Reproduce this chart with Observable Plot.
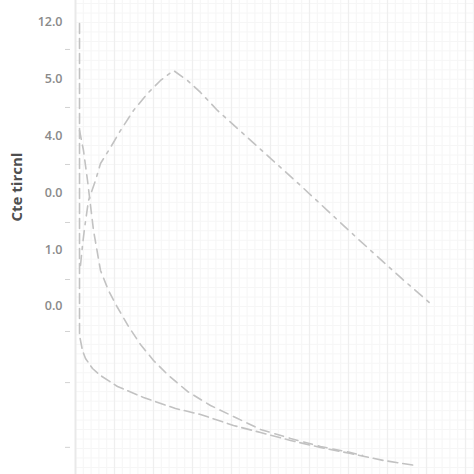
<!DOCTYPE html>
<html>
<head>
<meta charset="utf-8">
<script src="https://cdn.jsdelivr.net/npm/d3@7"></script>
<script src="https://cdn.jsdelivr.net/npm/@observablehq/plot@0.6"></script>
<style>
  html, body { margin: 0; padding: 0; background: #fff; }
</style>
</head>
<body>
<div id="chart"></div>
<script>
// Y tick labels (as printed in the reference) and their positions in scale units
const yTickValues = [10, 9, 8, 7, 6, 5];
const yTickLabels = ["12.0", "5.0", "4.0", "0.0", "1.0", "0.0"];
const yMinorTicks = [9.525, 8.504, 7.5, 6.479, 5.475, 4.56, 3.66, 2.52];
const yTitle = "Cte tircnl";

// Series A: steep vertical drop then long tail
const seriesAx = [0.103, 0.103, 0.179, 0.256, 0.436, 0.641, 1.077, 1.744, 2.564, 3.205, 4.051, 4.744, 5.513, 6.282, 7.051, 7.897, 8.718];
const seriesAy = [9.982, 4.489, 4.225, 4.085, 3.908, 3.785, 3.592, 3.398, 3.204, 3.099, 2.905, 2.782, 2.641, 2.518, 2.412, 2.289, 2.201];

// Series B: decaying curve
const seriesBx = [0.103, 0.205, 0.308, 0.385, 0.462, 0.641, 0.846, 1.077, 1.359, 1.667, 2.0, 2.359, 2.872, 3.462, 4.103, 4.744, 5.513, 6.282, 7.051, 7.359];
const seriesBy = [8.099, 7.746, 7.218, 6.778, 6.338, 5.634, 5.282, 4.982, 4.648, 4.331, 4.049, 3.803, 3.504, 3.257, 3.046, 2.835, 2.676, 2.535, 2.430, 2.377];

// Series C: rise to a peak then linear decline
const seriesCx = [0.128, 0.179, 0.231, 0.333, 0.513, 0.641, 0.897, 1.154, 1.487, 1.846, 2.179, 2.513, 2.872, 3.205, 3.641, 4.154, 5.769, 7.231, 8.333, 9.128];
const seriesCy = [5.722, 6.074, 6.373, 6.866, 7.218, 7.518, 7.799, 8.099, 8.451, 8.750, 8.979, 9.155, 8.979, 8.768, 8.451, 8.134, 7.130, 6.197, 5.511, 5.035];

const toRows = (xs, ys) => xs.map((x, i) => ({x, y: ys[i]}));
const A = toRows(seriesAx, seriesAy);
const B = toRows(seriesBx, seriesBy);
const C = toRows(seriesCx, seriesCy);
const labelMap = new Map(yTickValues.map((v, i) => [v, yTickLabels[i]]));

const lineStyle = {x: "x", y: "y", stroke: "#c2c2c2", strokeWidth: 1.6, curve: "linear"};

const chart = Plot.plot({
  width: 474,
  height: 474,
  marginLeft: 75,
  marginRight: 0,
  marginTop: 0,
  marginBottom: 0,
  style: {fontFamily: "Open Sans, sans-serif", background: "#fff"},
  x: {domain: [0, 10.23], axis: null},
  y: {domain: [2.042, 10.387], axis: null},
  marks: [
    Plot.gridX(d3.range(0, 10.3, 0.2), {stroke: "#f5f5f5", strokeOpacity: 1}),
    Plot.gridY(d3.range(2.0, 10.4, 1 / 6), {stroke: "#f6f6f6", strokeOpacity: 1}),
    Plot.gridX(d3.range(1, 11, 1), {stroke: "#efefef", strokeOpacity: 1, strokeWidth: 1.3}),
    Plot.ruleX([0], {stroke: "#e9e9e9", strokeWidth: 2}),
    Plot.axisY({ticks: yTickValues, tickSize: 0, tickPadding: 13, tickFormat: d => labelMap.get(d),
      fontSize: 12.5, fontWeight: 600, fill: "#8a8a8a", label: null}),
    Plot.axisY({ticks: yMinorTicks, tickSize: 5, tickFormat: () => "", dx: -5, stroke: "#d2d2d2", label: null}),
    Plot.line(A, {...lineStyle, strokeDasharray: "10,5"}),
    Plot.line(B, {...lineStyle, strokeDasharray: "9,6"}),
    Plot.line(C, {...lineStyle, strokeDasharray: "10,6,3,6"}),
    Plot.text([yTitle], {text: d => d, frameAnchor: "left", dx: -58, dy: -16, rotate: -90,
      fontSize: 15, fontWeight: "bold", fill: "#4f4f4f"})
  ]
});
document.getElementById("chart").appendChild(chart);
</script>
</body>
</html>
